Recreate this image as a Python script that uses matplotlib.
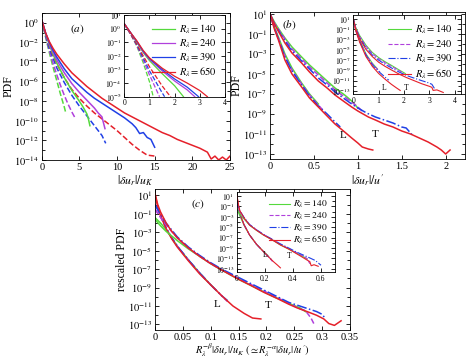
import numpy as np
import matplotlib
matplotlib.use('Agg')
import matplotlib.pyplot as plt
from matplotlib.ticker import NullFormatter

plt.rcParams['font.family'] = ['Liberation Serif', 'DejaVu Serif']
plt.rcParams['mathtext.fontset'] = 'stix'

re_labels = ['$R_\\lambda = 140$', '$R_\\lambda = 240$', '$R_\\lambda = 390$', '$R_\\lambda = 650$']
colors = ['#55d93c', '#b040dc', '#2040e6', '#e5202a']

# ---------------- panel (a): x = |du|/u_K, values are log10(PDF) ----------------
a_T_x = [
    [0, 0.5, 1, 1.5, 2, 3, 4, 5, 5.5, 6, 6.2, 6.4],
    [0, 0.5, 1, 1.5, 2, 3, 4, 5, 6, 7, 7.5, 8, 8.2, 8.4],
    [0, 0.5, 1, 1.5, 2, 3, 4, 5, 6, 7, 8, 9, 10, 11, 12, 12.5, 13, 13.5, 14, 14.5, 15],
    [0, 0.5, 1, 1.5, 2, 3, 4, 5, 6, 7, 8, 9, 10, 11, 12, 13, 14, 15, 16, 17, 18, 19, 20, 21, 22,
     22.5, 23, 23.5, 24, 24.5, 25],
]
a_T_logy = [
    [0.3, -1.1, -2.2, -3.2, -4.1, -5.6, -6.9, -8.0, -8.6, -9.3, -9.8, -10.5],
    [0.3, -1.0, -2.1, -3.0, -3.8, -5.1, -6.2, -7.1, -7.9, -8.7, -9.2, -9.6, -10.2, -10.8],
    [0.3, -1.0, -2.0, -2.8, -3.5, -4.7, -5.7, -6.4, -7.1, -7.7, -8.2, -8.7, -9.2, -9.7, -10.3,
     -10.7, -11.3, -11.2, -11.7, -11.9, -12.7],
    [0.3, -1.0, -1.9, -2.6, -3.2, -4.2, -5.1, -5.8, -6.5, -7.1, -7.7, -8.2, -8.7, -9.2, -9.6,
     -10.0, -10.4, -10.8, -11.2, -11.5, -11.9, -12.2, -12.5, -12.8, -13.2, -13.9, -13.6, -14.0,
     -13.7, -14.0, -13.6],
]
a_L_x = [
    [0, 0.5, 1, 1.5, 2, 2.5, 3, 3.2],
    [0, 0.5, 1, 1.5, 2, 2.5, 3, 3.5, 4, 4.5],
    [0, 0.5, 1, 1.5, 2, 3, 4, 5, 6, 7, 8, 8.5],
    [0, 0.5, 1, 1.5, 2, 3, 4, 5, 6, 7, 8, 9, 10, 11, 12, 13, 14, 15],
]
a_L_logy = [
    [0.3, -1.4, -3.0, -4.5, -5.9, -7.3, -8.6, -9.2],
    [0.3, -1.3, -2.8, -4.1, -5.3, -6.4, -7.4, -8.3, -9.1, -9.8],
    [0.3, -1.2, -2.6, -3.6, -4.6, -6.1, -7.4, -8.5, -9.5, -10.5, -11.5, -12.3],
    [0.3, -1.1, -2.3, -3.3, -4.2, -5.6, -6.8, -7.7, -8.5, -9.2, -9.8, -10.4, -11.0, -11.7,
     -12.4, -13.0, -13.5, -13.6],
]
# inset (a)
ai_T_x = [
    [0, 0.25, 0.5, 0.75, 1, 1.5, 2, 2.35],
    [0, 0.25, 0.5, 0.75, 1, 1.5, 2, 2.5, 2.8],
    [0, 0.25, 0.5, 0.75, 1, 1.5, 2, 2.5, 2.95],
    [0, 0.25, 0.5, 0.75, 1, 1.5, 2, 2.5, 3, 3.3],
]
ai_T_logy = [
    [0.35, -0.3, -1.0, -1.75, -2.35, -3.3, -4.2, -5.0],
    [0.35, -0.3, -0.95, -1.7, -2.25, -3.1, -3.85, -4.5, -5.0],
    [0.35, -0.3, -0.95, -1.65, -2.2, -3.0, -3.7, -4.3, -5.0],
    [0.35, -0.3, -0.9, -1.6, -2.15, -2.9, -3.5, -4.0, -4.55, -5.0],
]
ai_L_x = [
    [0, 0.25, 0.5, 0.75, 1, 1.15],
    [0, 0.25, 0.5, 0.75, 1, 1.25, 1.4],
    [0, 0.25, 0.5, 0.75, 1, 1.25, 1.5, 1.6],
    [0, 0.25, 0.5, 0.75, 1, 1.25, 1.5, 1.75, 1.85],
]
ai_L_logy = [
    [0.35, -0.4, -1.3, -2.5, -3.9, -5.0],
    [0.35, -0.4, -1.25, -2.3, -3.4, -4.4, -5.0],
    [0.35, -0.4, -1.2, -2.15, -3.1, -3.9, -4.7, -5.0],
    [0.35, -0.4, -1.15, -2.0, -2.8, -3.5, -4.2, -4.8, -5.0],
]

# ---------------- panel (b): x = |du|/u' ----------------
b_T_x = [
    [0, 0.05, 0.1, 0.17, 0.25, 0.36, 0.45, 0.55, 0.65, 0.74, 0.85, 0.93, 1.0],
    [0, 0.05, 0.1, 0.17, 0.25, 0.36, 0.45, 0.55, 0.65, 0.74, 0.85, 0.93, 1.0, 1.05],
    [0, 0.05, 0.1, 0.17, 0.25, 0.36, 0.45, 0.55, 0.65, 0.74, 0.85, 0.93, 1.0, 1.1, 1.2, 1.3,
     1.4, 1.45, 1.5, 1.55, 1.58, 1.62],
    [0, 0.05, 0.1, 0.17, 0.25, 0.36, 0.45, 0.55, 0.65, 0.74, 0.85, 0.93, 1.0, 1.12, 1.2, 1.3,
     1.4, 1.5, 1.6, 1.7, 1.8, 1.9, 1.95, 2.0, 2.05],
]
b_T_logy = [
    [1.0, 0.2, -0.5, -1.4, -2.3, -3.3, -4.1, -4.9, -5.7, -6.4, -7.1, -7.7, -8.4],
    [1.0, 0.1, -0.6, -1.5, -2.5, -3.5, -4.3, -5.1, -5.9, -6.6, -7.3, -7.8, -8.3, -8.7],
    [1.0, 0.0, -0.7, -1.7, -2.7, -3.7, -4.5, -5.4, -6.1, -6.8, -7.5, -8.0, -8.4, -8.9, -9.3,
     -9.6, -9.9, -10.1, -10.3, -10.4, -10.7, -11.1],
    [1.0, 0.0, -0.8, -1.9, -2.9, -3.9, -4.8, -5.7, -6.4, -7.1, -7.8, -8.3, -8.7, -9.3, -9.6,
     -10.0, -10.3, -10.7, -11.0, -11.4, -11.8, -12.3, -12.6, -13.0, -12.6],
]
b_L_x = [
    [0, 0.05, 0.1, 0.17, 0.25, 0.36, 0.45, 0.55],
    [0, 0.05, 0.1, 0.17, 0.25, 0.36, 0.45, 0.55, 0.6],
    [0, 0.05, 0.1, 0.17, 0.25, 0.36, 0.45, 0.55, 0.65, 0.74, 0.8],
    [0, 0.05, 0.1, 0.17, 0.25, 0.36, 0.45, 0.55, 0.65, 0.74, 0.85, 0.93, 1.0, 1.05, 1.12, 1.17],
]
b_L_logy = [
    [1.0, -0.3, -1.4, -3.0, -4.4, -5.9, -7.0, -8.0],
    [1.0, -0.4, -1.5, -3.2, -4.6, -6.0, -7.1, -8.1, -8.6],
    [1.0, -0.4, -1.6, -3.3, -4.7, -6.1, -7.2, -8.2, -9.0, -9.8, -10.3],
    [1.0, -0.5, -1.7, -3.6, -5.0, -6.3, -7.4, -8.3, -9.2, -10.0, -10.8, -11.4, -11.9, -12.3,
     -12.5, -12.6],
]
# inset (b)
bi_T_x = [
    [0, 0.1, 0.25, 0.5, 0.75, 1.0, 1.25, 1.5, 1.8, 2.05],
    [0, 0.1, 0.25, 0.5, 0.75, 1.0, 1.25, 1.5, 1.8, 2.0],
    [0, 0.1, 0.25, 0.5, 0.75, 1.0, 1.25, 1.5, 1.8, 2.1, 2.4, 2.7, 2.9, 3.0, 3.1, 3.2],
    [0, 0.1, 0.25, 0.5, 0.75, 1.0, 1.25, 1.5, 1.8, 2.1, 2.4, 2.7, 3.0, 3.1, 3.15, 3.3, 3.45, 3.55],
]
bi_T_logy = [
    [1.0, -0.7, -2.2, -4.1, -5.5, -6.5, -7.3, -8.0, -8.9, -9.6],
    [1.0, -0.8, -2.4, -4.3, -5.7, -6.7, -7.5, -8.2, -9.0, -9.6],
    [1.0, -0.9, -2.6, -4.6, -6.0, -7.0, -7.8, -8.5, -9.3, -10.0, -10.5, -11.0, -11.3, -11.5,
     -11.7, -12.5],
    [1.0, -1.0, -2.8, -4.9, -6.3, -7.4, -8.2, -8.9, -9.7, -10.4, -11.0, -11.6, -12.1, -12.3,
     -12.9, -12.8, -13.1, -13.3],
]
bi_L_x = [
    [0, 0.1, 0.25, 0.5, 0.75, 0.95],
    [0, 0.1, 0.25, 0.5, 0.75, 1.0, 1.05],
    [0, 0.1, 0.25, 0.5, 0.75, 1.0, 1.25, 1.4],
    [0, 0.1, 0.25, 0.5, 0.75, 1.0, 1.25, 1.5, 1.7, 1.85],
]
bi_L_logy = [
    [1.0, -1.1, -3.1, -5.8, -7.6, -8.7],
    [1.0, -1.2, -3.2, -5.9, -7.7, -9.0, -9.3],
    [1.0, -1.2, -3.3, -6.0, -7.9, -9.2, -10.3, -10.9],
    [1.0, -1.3, -3.5, -6.3, -8.2, -9.6, -10.7, -11.7, -12.4, -12.9],
]

# ---------------- panel (c): rescaled ----------------
c_T_x = [
    [0, 0.01, 0.02, 0.04, 0.06, 0.08, 0.1, 0.12, 0.15, 0.18, 0.21, 0.24, 0.26, 0.27],
    [0, 0.01, 0.02, 0.04, 0.06, 0.08, 0.1, 0.12, 0.15, 0.18, 0.2, 0.22, 0.24, 0.26, 0.27, 0.28, 0.285],
    [0, 0.01, 0.02, 0.04, 0.06, 0.08, 0.1, 0.12, 0.15, 0.18, 0.2, 0.22, 0.24, 0.26, 0.27, 0.28,
     0.29, 0.3, 0.305],
    [0, 0.005, 0.01, 0.02, 0.03, 0.04, 0.06, 0.08, 0.1, 0.12, 0.135, 0.15, 0.17, 0.195, 0.22,
     0.24, 0.255, 0.273, 0.29, 0.303, 0.312, 0.322, 0.334],
]
c_T_logy = [
    [-1.6, -2.3, -2.9, -3.9, -4.8, -5.6, -6.4, -7.1, -8.1, -9.0, -9.9, -10.7, -11.2, -11.6],
    [-0.5, -1.4, -2.2, -3.6, -4.7, -5.6, -6.4, -7.1, -8.0, -8.9, -9.5, -10.1, -10.7, -11.3,
     -11.5, -12.3, -12.9],
    [0.0, -1.0, -2.0, -3.5, -4.6, -5.5, -6.3, -7.0, -7.9, -8.8, -9.4, -10.0, -10.6, -11.0,
     -11.2, -11.4, -11.6, -11.9, -12.3],
    [1.2, 0.0, -0.8, -2.0, -2.9, -3.6, -4.7, -5.6, -6.4, -7.1, -7.6, -8.1, -8.7, -9.5, -10.2,
     -10.8, -11.2, -11.6, -12.0, -12.4, -12.9, -13.1, -12.6],
]
c_L_x = [
    [0, 0.01, 0.02, 0.03, 0.04, 0.06, 0.08, 0.1, 0.11],
    [0, 0.01, 0.02, 0.03, 0.04, 0.06, 0.08, 0.1, 0.12, 0.13],
    [0, 0.01, 0.02, 0.03, 0.04, 0.06, 0.08, 0.1, 0.12, 0.13],
    [0, 0.005, 0.01, 0.02, 0.03, 0.04, 0.06, 0.08, 0.1, 0.12, 0.14, 0.16, 0.175, 0.19],
]
c_L_logy = [
    [-1.4, -2.0, -2.7, -3.6, -4.5, -6.0, -7.4, -8.7, -9.3],
    [-0.5, -1.3, -2.6, -3.6, -4.5, -6.0, -7.4, -8.7, -9.9, -10.5],
    [0.0, -1.1, -2.5, -3.6, -4.5, -6.0, -7.4, -8.7, -9.9, -10.4],
    [1.2, -0.3, -1.2, -2.6, -3.7, -4.6, -6.1, -7.5, -8.7, -9.9, -11.0, -11.8, -12.3, -12.4],
]
# inset (c)
ci_T_x = [
    [0, 0.01, 0.02, 0.05, 0.09, 0.14, 0.19, 0.25, 0.31, 0.37, 0.42, 0.47, 0.5],
    [0, 0.01, 0.02, 0.05, 0.09, 0.14, 0.19, 0.25, 0.31, 0.37, 0.42, 0.47, 0.5, 0.52],
    [0, 0.01, 0.02, 0.05, 0.09, 0.14, 0.19, 0.25, 0.31, 0.37, 0.42, 0.47, 0.52, 0.56, 0.6],
    [0, 0.01, 0.02, 0.05, 0.09, 0.14, 0.19, 0.25, 0.31, 0.37, 0.42, 0.47, 0.5, 0.52, 0.53, 0.55, 0.58],
]
ci_T_logy = [
    [-1.5, -2.0, -2.5, -3.4, -4.6, -5.6, -6.5, -7.4, -8.4, -9.2, -9.9, -10.6, -11.1],
    [-0.5, -1.3, -2.0, -3.2, -4.5, -5.5, -6.4, -7.3, -8.3, -9.1, -9.8, -10.5, -11.0, -12.0],
    [0.0, -1.0, -1.8, -3.1, -4.5, -5.5, -6.4, -7.3, -8.2, -9.0, -9.7, -10.3, -10.9, -11.4, -12.3],
    [1.0, -0.6, -1.8, -3.2, -4.6, -5.6, -6.5, -7.4, -8.4, -9.2, -10.0, -10.8, -11.3, -11.6,
     -12.4, -12.2, -12.5],
]
ci_L_x = [
    [0, 0.01, 0.02, 0.05, 0.09, 0.14, 0.19, 0.22],
    [0, 0.01, 0.02, 0.05, 0.09, 0.14, 0.19, 0.23, 0.26],
    [0, 0.01, 0.02, 0.05, 0.09, 0.14, 0.19, 0.23, 0.25],
    [0, 0.01, 0.02, 0.05, 0.09, 0.14, 0.19, 0.23, 0.26, 0.29, 0.31],
]
ci_L_logy = [
    [-1.5, -2.1, -2.8, -4.6, -6.5, -8.3, -9.7, -10.4],
    [-0.5, -1.5, -2.5, -4.5, -6.5, -8.3, -9.7, -10.8, -11.8],
    [0.0, -1.2, -2.4, -4.5, -6.5, -8.3, -9.7, -10.8, -11.3],
    [1.0, -0.8, -2.3, -4.5, -6.5, -8.3, -9.7, -10.8, -11.6, -12.3, -12.8],
]

a_xticks = [0, 5, 10, 15, 20, 25]
a_yexp = [0, -2, -4, -6, -8, -10, -12, -14]
ai_xticks = [0, 1, 2, 3, 4]
ai_yexp = [1, 0, -1, -2, -3, -4, -5]
b_xticks = [0, 0.5, 1, 1.5, 2]
b_yexp = [1, -1, -3, -5, -7, -9, -11, -13]
bi_xticks = [0, 1, 2, 3, 4]
c_xticks = [0, 0.05, 0.1, 0.15, 0.2, 0.25, 0.3, 0.35]
c_xticklabels = ['0', '0.05', '0.1', '0.15', '0.2', '0.25', '0.3', '0.35']
ci_xticks = [0, 0.2, 0.4, 0.6]
ci_xticklabels = ['0', '0.2', '0.4', '0.6']

fig = plt.figure(figsize=(4.74, 3.62), dpi=100)
W, H = 474, 362


def px_axes(l, t, r, b):
    return fig.add_axes([l / W, 1 - b / H, (r - l) / W, (b - t) / H])


def style(ax, xticks, xlim, yexp, ylim, fs, xlabels=None):
    ax.set_yscale('log')
    ax.set_xlim(*xlim)
    ax.set_ylim(10.0 ** ylim[0], 10.0 ** ylim[1])
    ax.set_xticks(xticks)
    if xlabels is None:
        xlabels = [f'{t:g}' for t in xticks]
    ax.set_xticklabels(xlabels, fontsize=fs)
    ax.set_yticks([10.0 ** e for e in yexp])
    ax.set_yticklabels([f'$10^{{{e}}}$' for e in yexp], fontsize=fs)
    lo, hi = int(np.ceil(ylim[0])), int(np.floor(ylim[1]))
    ax.set_yticks([10.0 ** e for e in range(lo, hi + 1) if e not in yexp], minor=True)
    ax.yaxis.set_minor_formatter(NullFormatter())
    ax.tick_params(which='both', direction='in', top=True, right=True, width=0.6, pad=2)
    ax.tick_params(which='major', length=3)
    ax.tick_params(which='minor', length=2)
    for s in ax.spines.values():
        s.set_linewidth(0.6)


def draw(ax, xs, ys, styles, lw):
    out = []
    for i in range(4):
        out += ax.plot(xs[i], 10.0 ** np.array(ys[i]), color=colors[i], ls=styles[i], lw=lw)
    return out


solid4 = ['-', '-', '-', '-']
mixed = ['-', '--', '-.', '-']


def legend(ax, fs, sp):
    ax.legend(loc='upper right', fontsize=fs, frameon=False, handlelength=2.2,
              handletextpad=0.4, labelspacing=sp, borderpad=0.25)


# (a)
ax = px_axes(41.7, 13, 230, 160)
draw(ax, a_L_x, a_L_logy, ['--'] * 4, 1.1)
draw(ax, a_T_x, a_T_logy, solid4, 1.1)
style(ax, a_xticks, (0, 25), a_yexp, (-14, 1), 7.5)
ax.set_xlabel('$|\\delta u_r|/u_K$', fontsize=8.5, labelpad=1)
ax.set_ylabel('PDF', fontsize=8.5, labelpad=0)
ax.text(0.19, 0.89, '$(a)$', transform=ax.transAxes, fontsize=8, ha='center', va='center')

ax = px_axes(124.3, 15, 225, 96.7)
draw(ax, ai_L_x, ai_L_logy, ['--'] * 4, 0.9)
lines = draw(ax, ai_T_x, ai_T_logy, solid4, 0.9)
for ln, lab in zip(lines, re_labels):
    ln.set_label(lab)
style(ax, ai_xticks, (0, 4), ai_yexp, (-5, 1), 5.5)
legend(ax, 7.5, 0.15)

# (b)
ax = px_axes(270, 12, 465, 159)
draw(ax, b_L_x, b_L_logy, mixed, 1.1)
draw(ax, b_T_x, b_T_logy, mixed, 1.1)
style(ax, b_xticks, (0, 2.22), b_yexp, (-13.5, 1.2), 7.5)
ax.set_xlabel("$|\\delta u_r|/u'$", fontsize=8.5, labelpad=1)
ax.set_ylabel('PDF', fontsize=8.5, labelpad=0)
ax.text(0.10, 0.91, '$(b)$', transform=ax.transAxes, fontsize=8, ha='center', va='center')
ax.text(0.83, 10.0 ** -11.1, 'L', fontsize=8, ha='center', va='center')
ax.text(1.2, 10.0 ** -11.0, 'T', fontsize=8, ha='center', va='center')

ax = px_axes(353.3, 15, 461, 94)
draw(ax, bi_L_x, bi_L_logy, mixed, 0.8)
lines = draw(ax, bi_T_x, bi_T_logy, mixed, 0.8)
for ln, lab in zip(lines, re_labels):
    ln.set_label(lab)
style(ax, bi_xticks, (0, 4.25), b_yexp, (-13.6, 1.8), 5.5)
ax.text(1.2, 10.0 ** -12.4, 'L', fontsize=5.5, ha='center', va='center')
ax.text(2.1, 10.0 ** -12.4, 'T', fontsize=5.5, ha='center', va='center')
legend(ax, 7.5, 0.2)

# (c)
ax = px_axes(155, 189, 350, 330)
draw(ax, c_L_x, c_L_logy, mixed, 1.1)
draw(ax, c_T_x, c_T_logy, mixed, 1.1)
style(ax, c_xticks, (0, 0.35), b_yexp, (-13.6, 1.7), 7.5, c_xticklabels)
ax.set_xlabel("$R_\\lambda^{-\\beta}|\\delta u_r|/u_K\\ (\\simeq R_\\lambda^{-\\alpha}|\\delta u_r|/u')$",
              fontsize=7.5, va='top')
ax.xaxis.set_label_coords(0.5, -0.08)
ax.set_ylabel('rescaled PDF', fontsize=8.5, labelpad=0)
ax.text(0.22, 0.895, '$(c)$', transform=ax.transAxes, fontsize=8, ha='center', va='center')
ax.text(0.111, 10.0 ** -10.8, 'L', fontsize=8, ha='center', va='center')
ax.text(0.204, 10.0 ** -10.9, 'T', fontsize=8, ha='center', va='center')

ax = px_axes(237, 192, 335, 272)
draw(ax, ci_L_x, ci_L_logy, mixed, 0.8)
lines = draw(ax, ci_T_x, ci_T_logy, mixed, 0.8)
for ln, lab in zip(lines, re_labels):
    ln.set_label(lab)
style(ax, ci_xticks, (0, 0.7), b_yexp, (-13.6, 1.77), 5.5, ci_xticklabels)
ax.text(0.2, 10.0 ** -10.4, 'L', fontsize=5.5, ha='center', va='center')
ax.text(0.37, 10.0 ** -10.6, 'T', fontsize=5.5, ha='center', va='center')
legend(ax, 6.8, 0.05)

fig.savefig('out.png', dpi=100)
